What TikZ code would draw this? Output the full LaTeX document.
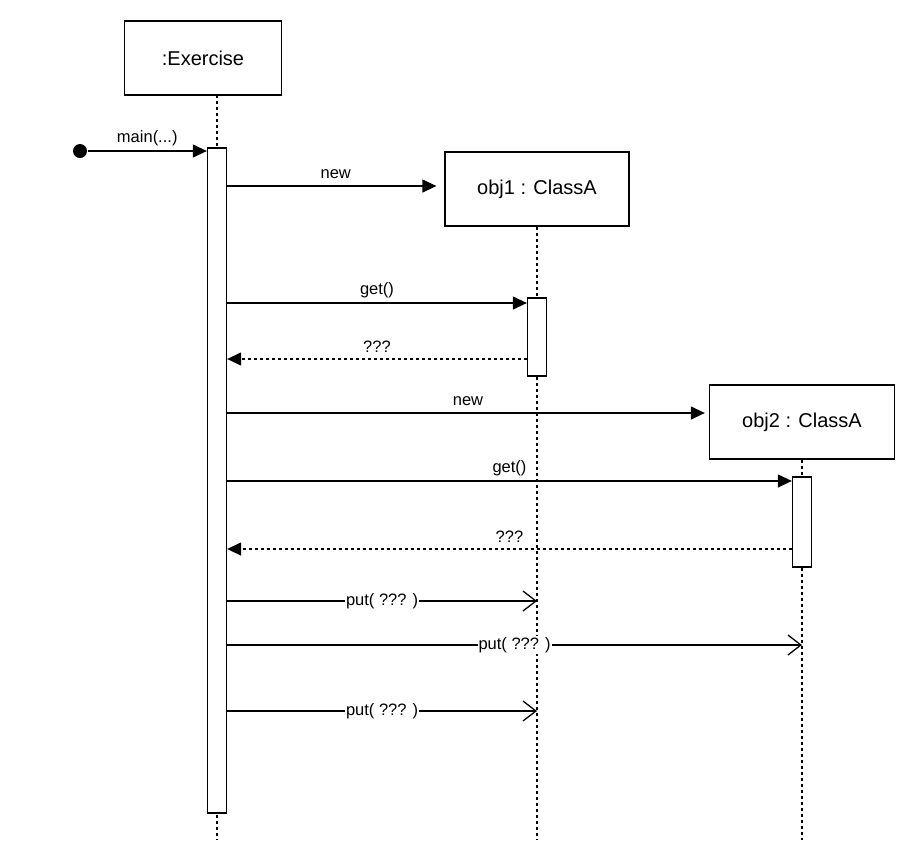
\documentclass[tikz,border=0pt]{standalone}
\usepackage{fontspec}
\setmainfont{Liberation Sans}
\usetikzlibrary{arrows.meta}
\begin{document}
\begin{tikzpicture}[
			x=1pt, y=-1pt,
			line width=1.3pt,
			font=\fontsize{16.5}{19}\selectfont,
			obj/.style={
				draw,
				minimum height=74pt,
				font=\fontsize{20}{23}\selectfont
			},
			life/.style={
				dashed
			},
			act/.style={
				draw,
				fill=white,
				minimum width=19pt,
				inner sep=0
			},
			call/.style={
				-{Triangle[length=14pt,width=13pt]}
			},
			reply/.style={
				call,
				dashed
			},
			msg/.style={
				-{Straight Barb[length=13pt,width=20pt]}
			},
			lbl/.style={
				fill=white,
				inner sep=1pt
			}
		]
		\useasboundingbox (0,0) rectangle (916,855);

		% lifeline heads
		\node [obj, minimum width=157pt] (EX) at (203,58) {:Exercise};
		\node [obj, minimum width=184pt] (O1) at (537,189) {obj1 : ClassA};
		\node [obj, minimum width=185pt] (O2) at (802,422) {obj2 : ClassA};
		\coordinate (EXend) at (217,840);
		\coordinate (O1end) at (537,840);
		\coordinate (O2end) at (802,840);
		\draw [life] (217,95) -- (EXend);
		\draw [life] (O1.south) -- (O1end);
		\draw [life] (O2.south) -- (O2end);

		% activations
		\node [act, minimum height=665pt] (A0) at (217,480.5) {};
		\node [act, minimum height=78pt] (A1) at (537,337) {};
		\node [act, minimum height=90pt] (A2) at (802,522) {};

		% found message
		\node [circle, fill, inner sep=0, minimum size=14pt] (S) at (80,151) {};
		\draw [call] (S) -- (A0.west |- S) node [midway, above=1pt] {main(...)};

		% messages
		\draw [call, shorten >=8pt] (A0.east |- 0,186) -- (O1.west |- 0,186) node [midway, above=3pt] {new};
		\draw [call] (A0.east |- 0,303) -- (A1.west |- 0,303) node [midway, above=1pt] {get()};
		\draw [reply] (A1.west |- 0,359) -- (A0.east |- 0,359) node [midway, above=3pt] {???};
		\draw [call, shorten >=4pt] (A0.east |- 0,413) -- (O2.west |- 0,413) node [midway, above=3pt] {new};
		\draw [call] (A0.east |- 0,481) -- (A2.west |- 0,481) node [midway, above=1pt] {get()};
		\draw [reply] (A2.west |- 0,549) -- (A0.east |- 0,549) node [midway, above=3pt] {???};
		\draw [msg] (A0.east |- 0,601) -- (O1end |- 0,601) node [lbl, midway] {put( ??? )};
		\draw [msg] (A0.east |- 0,645) -- (O2end |- 0,645) node [lbl, midway] {put( ??? )};
		\draw [msg] (A0.east |- 0,711) -- (O1end |- 0,711) node [lbl, midway] {put( ??? )};

	\end{tikzpicture}
\end{document}
